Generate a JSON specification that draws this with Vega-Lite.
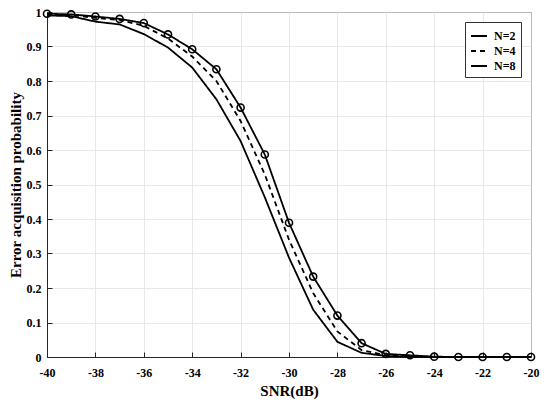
{
  "$schema": "https://vega.github.io/schema/vega-lite/v6.json",
  "width": 550,
  "height": 402,
  "autosize": {"type": "fit", "contains": "padding"},
  "padding": {"left": 8, "top": 6, "right": 11, "bottom": 4},
  "background": "white",
  "config": {
    "font": "Liberation Serif",
    "view": {"stroke": "#262626", "strokeWidth": 1},
    "axis": {
      "labelFont": "Liberation Serif",
      "labelFontWeight": "bold",
      "labelFontSize": 12,
      "labelColor": "black",
      "labelFlush": false,
      "titleFont": "Liberation Serif",
      "titleFontWeight": "bold",
      "titleFontSize": 15,
      "titleColor": "black",
      "domainColor": "#262626",
      "domainWidth": 1,
      "tickColor": "#262626",
      "tickSize": -5,
      "gridColor": "#e2e2e2",
      "gridWidth": 0.8
    },
    "legend": {
      "orient": "top-right",
      "offset": 10,
      "padding": 5,
      "rowPadding": 0,
      "strokeColor": "#333333",
      "fillColor": "white",
      "symbolType": "stroke",
      "symbolSize": 256,
      "symbolStrokeColor": "black",
      "symbolStrokeWidth": 1.8,
      "labelOffset": 6,
      "labelFont": "Liberation Serif",
      "labelFontWeight": "bold",
      "labelFontSize": 12,
      "labelColor": "black"
    }
  },
  "data": {
    "values": [
      {"snr": -40, "p": 0.990, "series": "N=2"},
      {"snr": -39, "p": 0.988, "series": "N=2"},
      {"snr": -38, "p": 0.972, "series": "N=2"},
      {"snr": -37, "p": 0.964, "series": "N=2"},
      {"snr": -36, "p": 0.936, "series": "N=2"},
      {"snr": -35, "p": 0.897, "series": "N=2"},
      {"snr": -34, "p": 0.839, "series": "N=2"},
      {"snr": -33, "p": 0.747, "series": "N=2"},
      {"snr": -32, "p": 0.626, "series": "N=2"},
      {"snr": -31, "p": 0.463, "series": "N=2"},
      {"snr": -30, "p": 0.288, "series": "N=2"},
      {"snr": -29, "p": 0.137, "series": "N=2"},
      {"snr": -28, "p": 0.044, "series": "N=2"},
      {"snr": -27, "p": 0.012, "series": "N=2"},
      {"snr": -26, "p": 0.003, "series": "N=2"},
      {"snr": -25, "p": 0.001, "series": "N=2"},
      {"snr": -24, "p": 0, "series": "N=2"},
      {"snr": -23, "p": 0, "series": "N=2"},
      {"snr": -22, "p": 0, "series": "N=2"},
      {"snr": -21, "p": 0, "series": "N=2"},
      {"snr": -20, "p": 0, "series": "N=2"},
      {"snr": -40, "p": 0.993, "series": "N=4"},
      {"snr": -39, "p": 0.991, "series": "N=4"},
      {"snr": -38, "p": 0.983, "series": "N=4"},
      {"snr": -37, "p": 0.977, "series": "N=4"},
      {"snr": -36, "p": 0.960, "series": "N=4"},
      {"snr": -35, "p": 0.923, "series": "N=4"},
      {"snr": -34, "p": 0.871, "series": "N=4"},
      {"snr": -33, "p": 0.800, "series": "N=4"},
      {"snr": -32, "p": 0.684, "series": "N=4"},
      {"snr": -31, "p": 0.529, "series": "N=4"},
      {"snr": -30, "p": 0.340, "series": "N=4"},
      {"snr": -29, "p": 0.185, "series": "N=4"},
      {"snr": -28, "p": 0.074, "series": "N=4"},
      {"snr": -27, "p": 0.020, "series": "N=4"},
      {"snr": -26, "p": 0.005, "series": "N=4"},
      {"snr": -25, "p": 0.002, "series": "N=4"},
      {"snr": -24, "p": 0, "series": "N=4"},
      {"snr": -23, "p": 0, "series": "N=4"},
      {"snr": -22, "p": 0, "series": "N=4"},
      {"snr": -21, "p": 0, "series": "N=4"},
      {"snr": -20, "p": 0, "series": "N=4"},
      {"snr": -40, "p": 0.995, "series": "N=8"},
      {"snr": -39, "p": 0.993, "series": "N=8"},
      {"snr": -38, "p": 0.987, "series": "N=8"},
      {"snr": -37, "p": 0.980, "series": "N=8"},
      {"snr": -36, "p": 0.968, "series": "N=8"},
      {"snr": -35, "p": 0.935, "series": "N=8"},
      {"snr": -34, "p": 0.892, "series": "N=8"},
      {"snr": -33, "p": 0.834, "series": "N=8"},
      {"snr": -32, "p": 0.723, "series": "N=8"},
      {"snr": -31, "p": 0.587, "series": "N=8"},
      {"snr": -30, "p": 0.389, "series": "N=8"},
      {"snr": -29, "p": 0.233, "series": "N=8"},
      {"snr": -28, "p": 0.120, "series": "N=8"},
      {"snr": -27, "p": 0.040, "series": "N=8"},
      {"snr": -26, "p": 0.009, "series": "N=8"},
      {"snr": -25, "p": 0.005, "series": "N=8"},
      {"snr": -24, "p": 0.001, "series": "N=8"},
      {"snr": -23, "p": 0, "series": "N=8"},
      {"snr": -22, "p": 0, "series": "N=8"},
      {"snr": -21, "p": 0, "series": "N=8"},
      {"snr": -20, "p": 0, "series": "N=8"}
    ]
  },
  "encoding": {
    "x": {
      "field": "snr", "type": "quantitative",
      "scale": {"domain": [-40, -20], "nice": false},
      "axis": {
        "values": [-40, -38, -36, -34, -32, -30, -28, -26, -24, -22, -20],
        "labelExpr": "toString(datum.value)",
        "labelPadding": 15,
        "title": "SNR(dB)",
        "titlePadding": 5,
        "grid": true
      }
    },
    "y": {
      "field": "p", "type": "quantitative",
      "scale": {"domain": [0, 1], "nice": false},
      "axis": {
        "values": [0, 0.1, 0.2, 0.3, 0.4, 0.5, 0.6, 0.7, 0.8, 0.9, 1],
        "format": ".1~f",
        "labelPadding": 11,
        "title": "Error acquisition probability",
        "titlePadding": 3,
        "grid": true
      }
    }
  },
  "layer": [
    {
      "mark": {"type": "line", "color": "black", "strokeWidth": 1.8},
      "encoding": {
        "strokeDash": {
          "field": "series", "type": "nominal",
          "scale": {"domain": ["N=2", "N=4", "N=8"], "range": [[1, 0], [5, 4], [1, 0]]},
          "legend": {"title": null}
        }
      }
    },
    {
      "transform": [{"filter": "datum.series === 'N=8'"}],
      "mark": {"type": "point", "shape": "circle", "filled": false, "color": "black", "strokeWidth": 1.6, "size": 50, "opacity": 1}
    }
  ]
}
